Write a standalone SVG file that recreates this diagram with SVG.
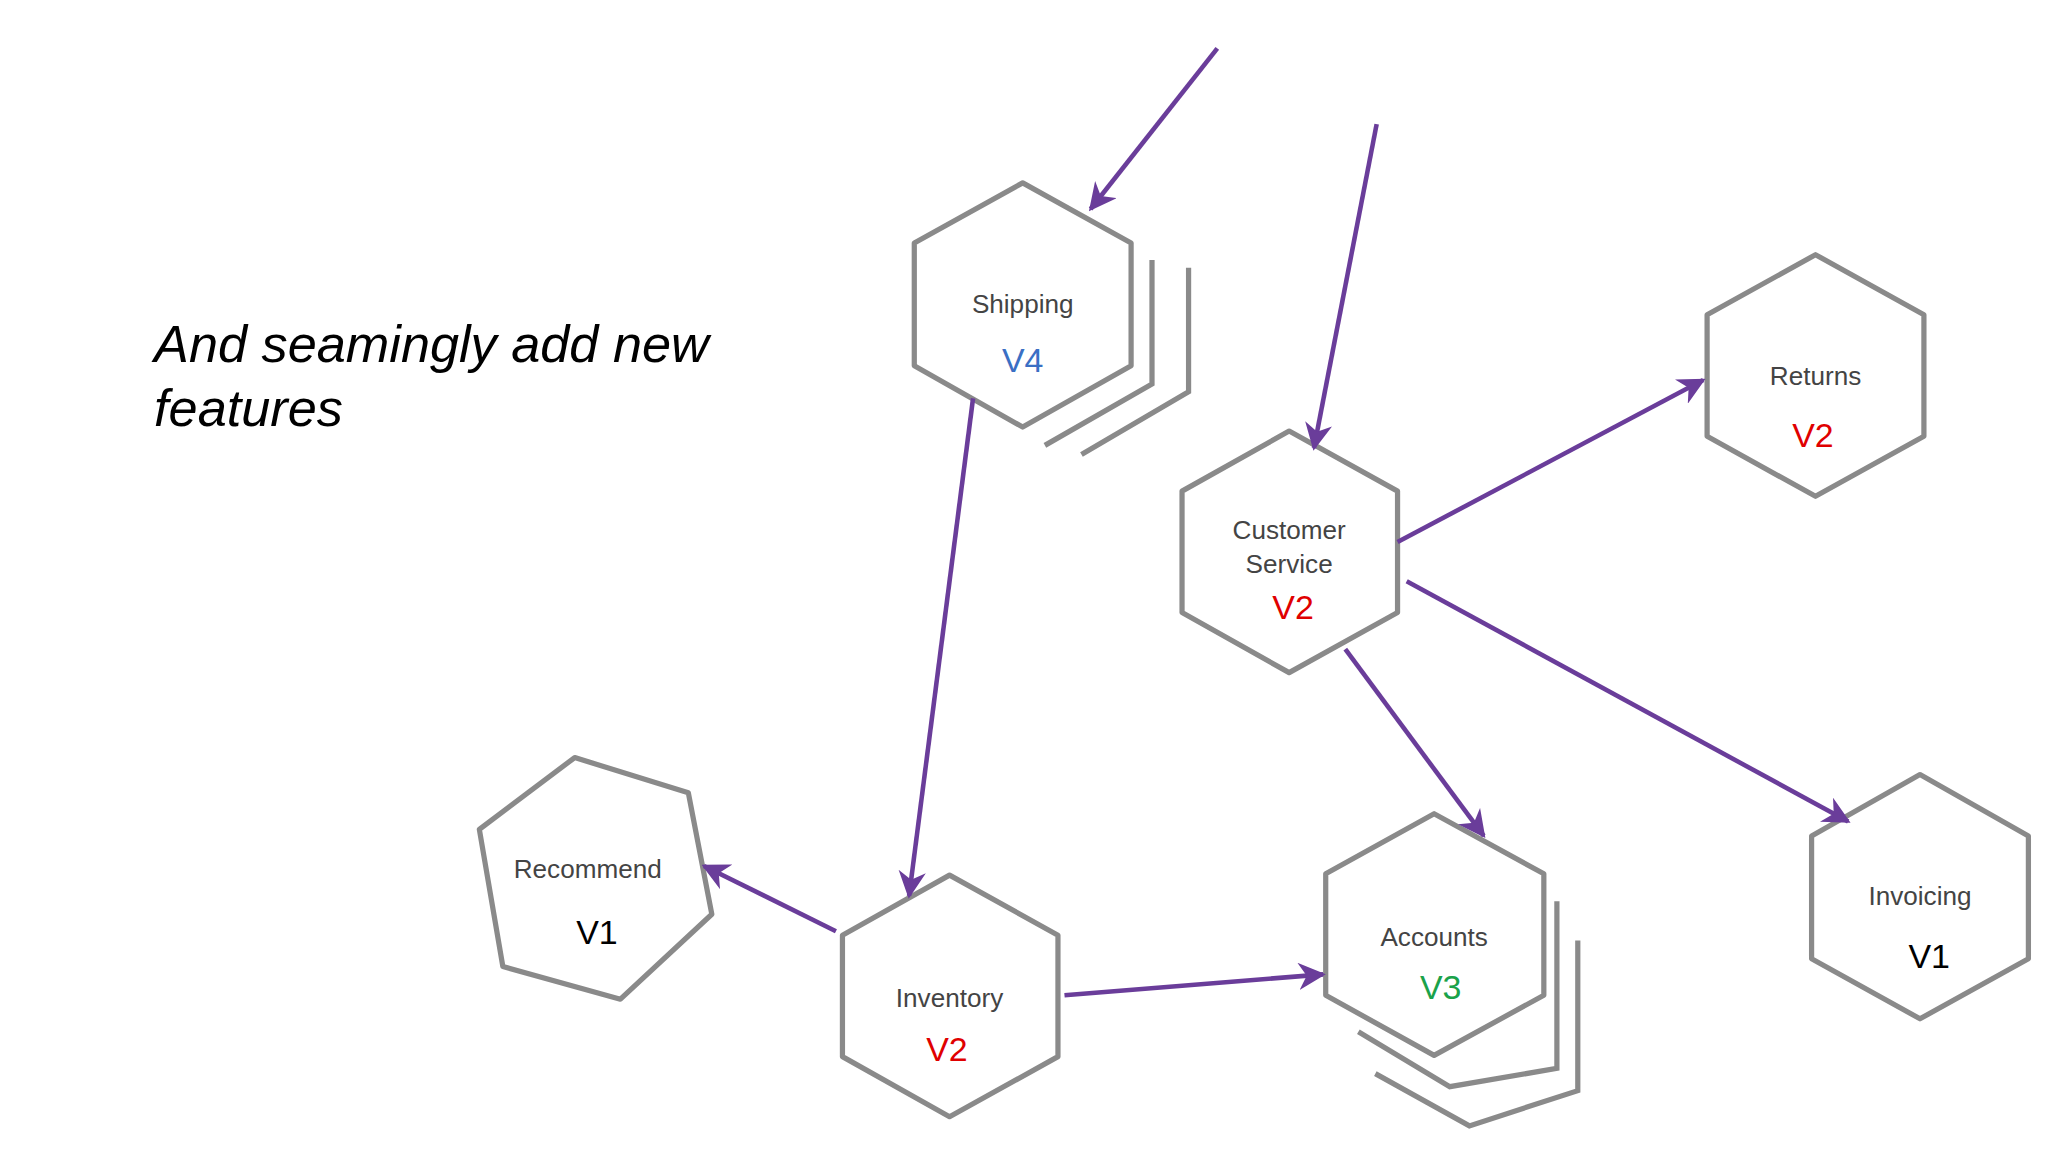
<svg xmlns="http://www.w3.org/2000/svg" width="2048" height="1152" viewBox="0 0 2048 1152">
<defs>
<marker id="ah" viewBox="0 0 10 10" refX="9" refY="5" markerWidth="6" markerHeight="6" orient="auto" markerUnits="strokeWidth"><path d="M0,0 L10,5 L0,10 L3,5 z" fill="#6a3d9a"/></marker>
<style>
.hex{fill:#fff;stroke:#8a8a8a;stroke-width:4;stroke-linejoin:round}
.stk{fill:none;stroke:#8a8a8a;stroke-width:4}
.lbl{font-family:"Liberation Sans",Arial,sans-serif;font-size:20px;fill:#444;text-anchor:middle}
.ver{font-family:"Liberation Sans",Arial,sans-serif;font-size:26px;text-anchor:middle}
.con{stroke:#6a3d9a;stroke-width:3.5;fill:none;marker-end:url(#ah)}
</style>
</defs>
<rect width="2048" height="1152" fill="#fff"/>
<g transform="scale(1.30612)">
<text x="118" y="277" font-family="Liberation Sans,Arial,sans-serif" font-style="italic" font-size="40" fill="#000">And seamingly add new</text>
<text x="118" y="326" font-family="Liberation Sans,Arial,sans-serif" font-style="italic" font-size="40" fill="#000">features</text>
<g id="shipping">
<polyline class="stk" points="910,205 910,300 828,348"/>
<polyline class="stk" points="882,199 882,294 800,341"/>
<polygon class="hex" points="783,140 866,186 866,280 783,327 700,280 700,186"/>
<text class="lbl" x="783" y="240">Shipping</text>
<text class="ver" x="783" y="285" fill="#3a6fc4">V4</text>
</g>
<g id="customer-service">
<polygon class="hex" points="987,330 1070,376 1070,469 987,515 905,469 905,376"/>
<text class="lbl" x="987" y="413">Customer</text>
<text class="lbl" x="987" y="439">Service</text>
<text class="ver" x="990" y="474" fill="#e00000">V2</text>
</g>
<g id="returns">
<polygon class="hex" points="1390,195 1473,241 1473,334 1390,380 1307,334 1307,241"/>
<text class="lbl" x="1390" y="295">Returns</text>
<text class="ver" x="1388" y="342" fill="#e00000">V2</text>
</g>
<g id="invoicing">
<polygon class="hex" points="1470,593 1553,640 1553,734 1470,780 1387,734 1387,640"/>
<text class="lbl" x="1470" y="693">Invoicing</text>
<text class="ver" x="1477" y="741" fill="#000">V1</text>
</g>
<g id="accounts">
<polyline class="stk" points="1208,720 1208,835 1125,862 1053,822"/>
<polyline class="stk" points="1192,690 1192,818 1110,832 1040,790"/>
<polygon class="hex" points="1098,623 1182,669 1182,762 1098,808 1015,762 1015,669"/>
<text class="lbl" x="1098" y="724">Accounts</text>
<text class="ver" x="1103" y="765" fill="#1aa24a">V3</text>
</g>
<g id="inventory">
<polygon class="hex" points="727,670 810,716 810,809 727,855 645,809 645,716"/>
<text class="lbl" x="727" y="771">Inventory</text>
<text class="ver" x="725" y="812" fill="#e00000">V2</text>
</g>
<g id="recommend">
<polygon class="hex" points="440,580 527,607 545,700 475,765 385,740 367,635"/>
<text class="lbl" x="450" y="672" fill="#000">Recommend</text>
<text class="ver" x="457" y="723" fill="#000">V1</text>
</g>
<g id="connectors">
<line class="con" x1="932" y1="37" x2="835" y2="160"/>
<line class="con" x1="1054" y1="95" x2="1006" y2="343"/>
<line class="con" x1="745" y1="305" x2="696" y2="686"/>
<line class="con" x1="1070" y1="415" x2="1304" y2="291"/>
<line class="con" x1="1077" y1="445" x2="1415" y2="629"/>
<line class="con" x1="1030" y1="497" x2="1136" y2="640"/>
<line class="con" x1="640" y1="713" x2="539" y2="663"/>
<line class="con" x1="815" y1="762" x2="1013" y2="746"/>
</g>
</g>
</svg>
